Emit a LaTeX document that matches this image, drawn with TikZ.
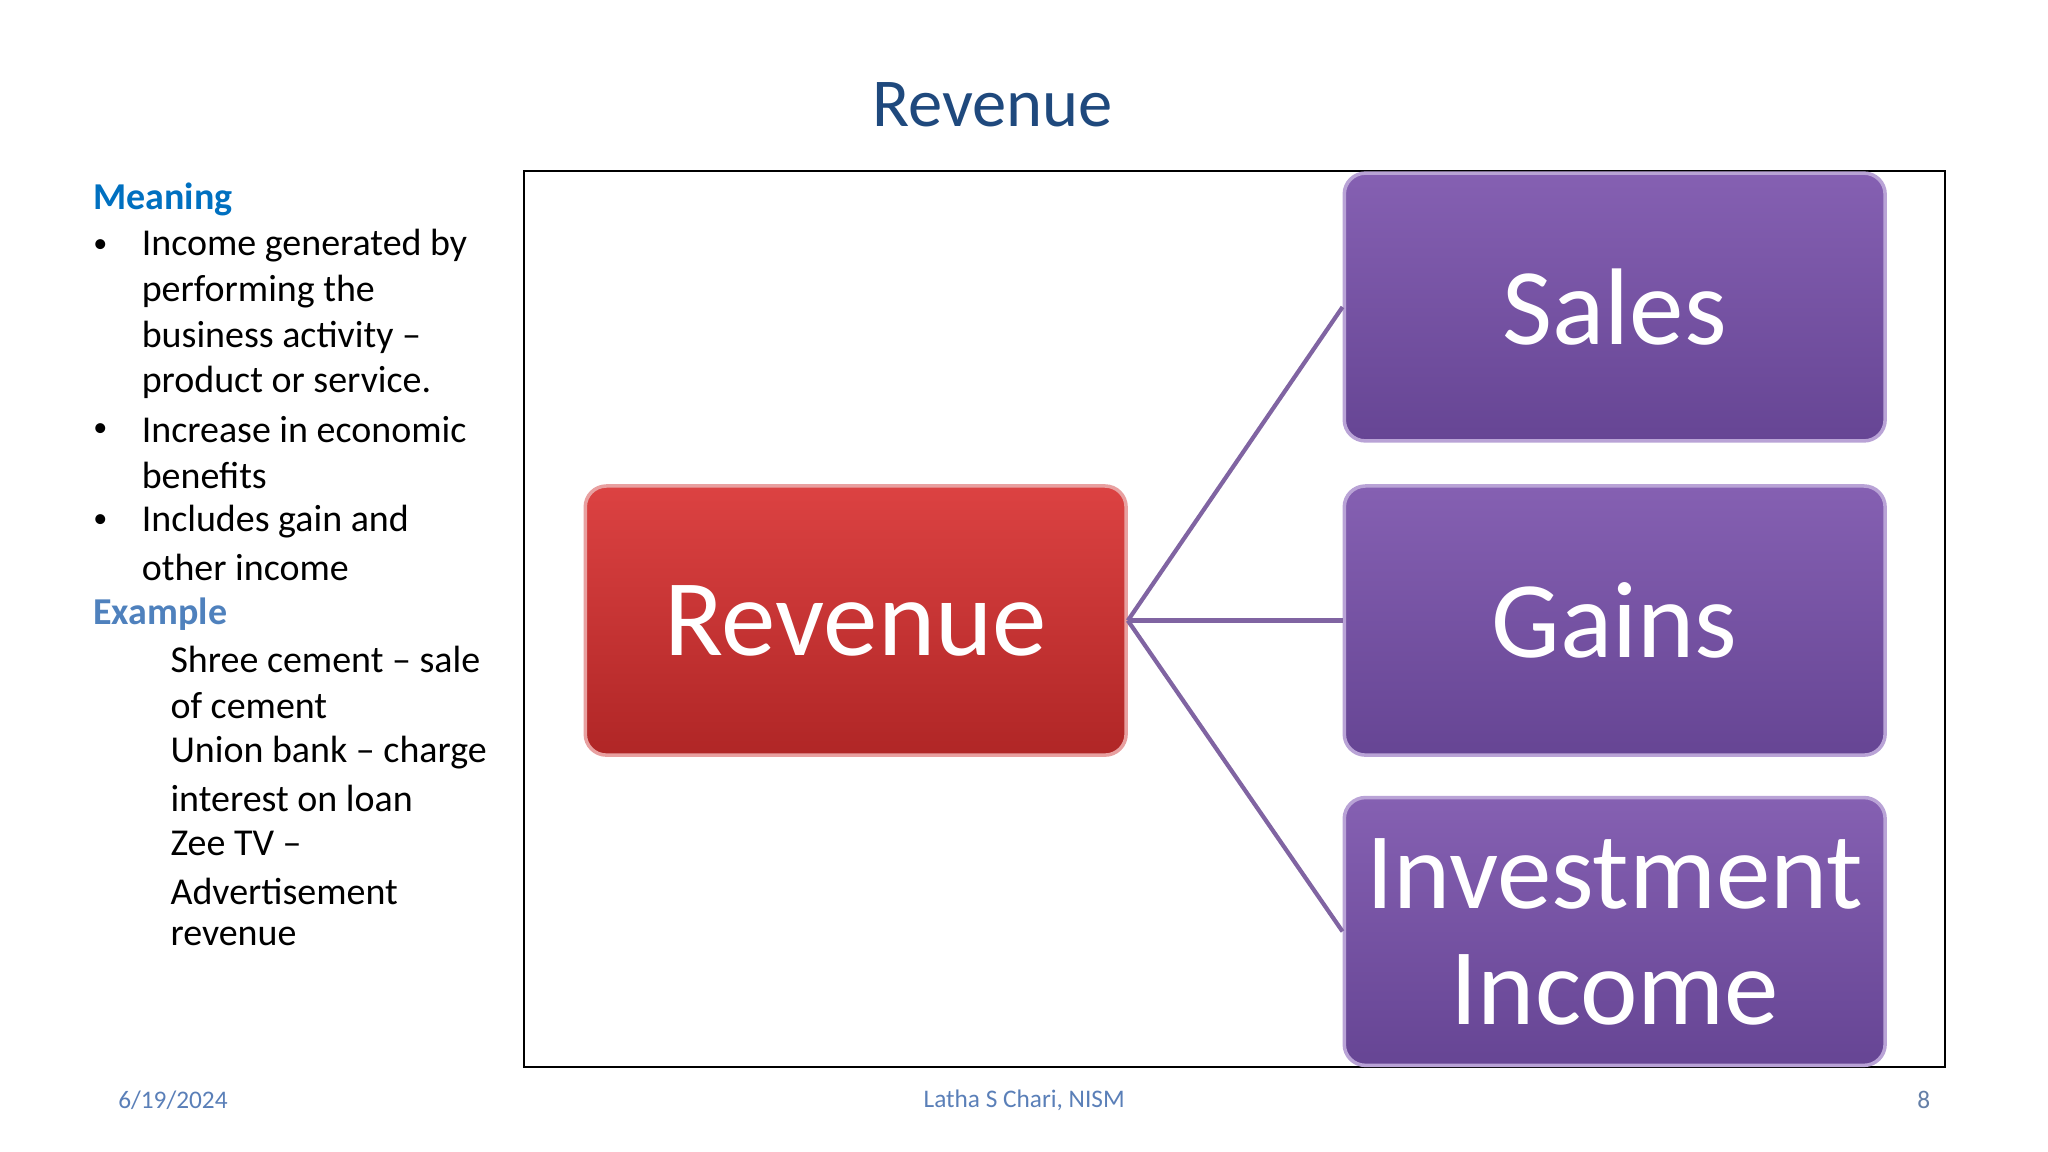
\documentclass[tikz,border=0pt]{standalone}
\usepackage{fontspec}
\setmainfont{Carlito}
\begin{document}
\begin{tikzpicture}[x=0.013064cm,y=-0.013064cm,
  txt/.style={anchor=west,inner sep=0pt,font=\fontsize{10.8}{13}\selectfont},
  pbox/.style={rounded corners=6pt,top color=purple1,bottom color=purple2,draw=purple3,line width=1pt,text=white,font=\fontsize{31}{33}\selectfont,align=center,inner sep=0pt},
  rbox/.style={rounded corners=6pt,top color=red1,bottom color=red2,draw=red3,line width=1pt,text=white,font=\fontsize{31}{33}\selectfont,inner sep=0pt},
  conn/.style={draw=linec,line width=1.2pt}]
\definecolor{purple1}{HTML}{8560B2}
\definecolor{purple2}{HTML}{664594}
\definecolor{purple3}{HTML}{B9A3D6}
\definecolor{red1}{HTML}{DC4242}
\definecolor{red2}{HTML}{B02626}
\definecolor{red3}{HTML}{E8A0A0}
\definecolor{linec}{HTML}{8064A2}
\definecolor{titlec}{HTML}{1F497D}
\definecolor{meanc}{HTML}{0070C0}
\definecolor{exc}{HTML}{4F81BD}
\definecolor{footc}{HTML}{5A7FB8}
\useasboundingbox (0,0) rectangle (1567.7,881.8);
\node[font=\fontsize{19.5}{22}\selectfont,text=titlec] (title) at (760,80) {Revenue};
\draw[line width=0.6pt] (401,131) rectangle (1489,817);
\node[rbox,minimum width=414*0.013064cm,minimum height=206*0.013064cm] (rev) at (655,475) {Revenue};
\node[pbox,minimum width=414*0.013064cm,minimum height=205*0.013064cm] (sales) at (1236,235) {Sales};
\node[pbox,minimum width=414*0.013064cm,minimum height=206*0.013064cm] (gains) at (1236,475) {Gains};
\node[pbox,minimum width=414*0.013064cm,minimum height=205*0.013064cm] (inv) at (1236,713) {Investment\\Income};
\draw[conn] (rev.east) -- (sales.west);
\draw[conn] (rev.east) -- (gains.west);
\draw[conn] (rev.east) -- (inv.west);
\node[txt,text=meanc,font=\fontsize{10.8}{13}\selectfont\bfseries] (m) at (71,153) {Meaning};
\foreach \y/\t [count=\i] in {188/Income generated by,223/performing the,258/business activity --,293/product or service.,329/Increase in economic,364/benefits,399/Includes gain and,434/other income}
  \node[txt] (l\i) at (108,\y) {\t};
\foreach \y [count=\i] in {188,329,399} \node[txt,font=\fontsize{8}{10}\selectfont] (b\i) at (71,\y) {\textbullet};
\node[txt,text=exc,font=\fontsize{10.8}{13}\selectfont\bfseries] (ex) at (71,470) {Example};
\foreach \y/\t [count=\i] in {505/Shree cement -- sale,540/of cement,576/Union bank -- charge,611/interest on loan,646/Zee TV --,682/Advertisement,717/revenue}
  \node[txt] (e\i) at (130,\y) {\t};
\node[txt,text=footc,font=\fontsize{7.2}{8}\selectfont] (d) at (90,842) {6/19/2024};
\node[text=footc,font=\fontsize{7.2}{8}\selectfont,inner sep=0pt] (a) at (784,842) {Latha S Chari, NISM};
\node[anchor=east,text=footc!70!gray,font=\fontsize{7.2}{8}\selectfont,inner sep=0pt] (p) at (1478,842) {8};
\end{tikzpicture}
\end{document}
